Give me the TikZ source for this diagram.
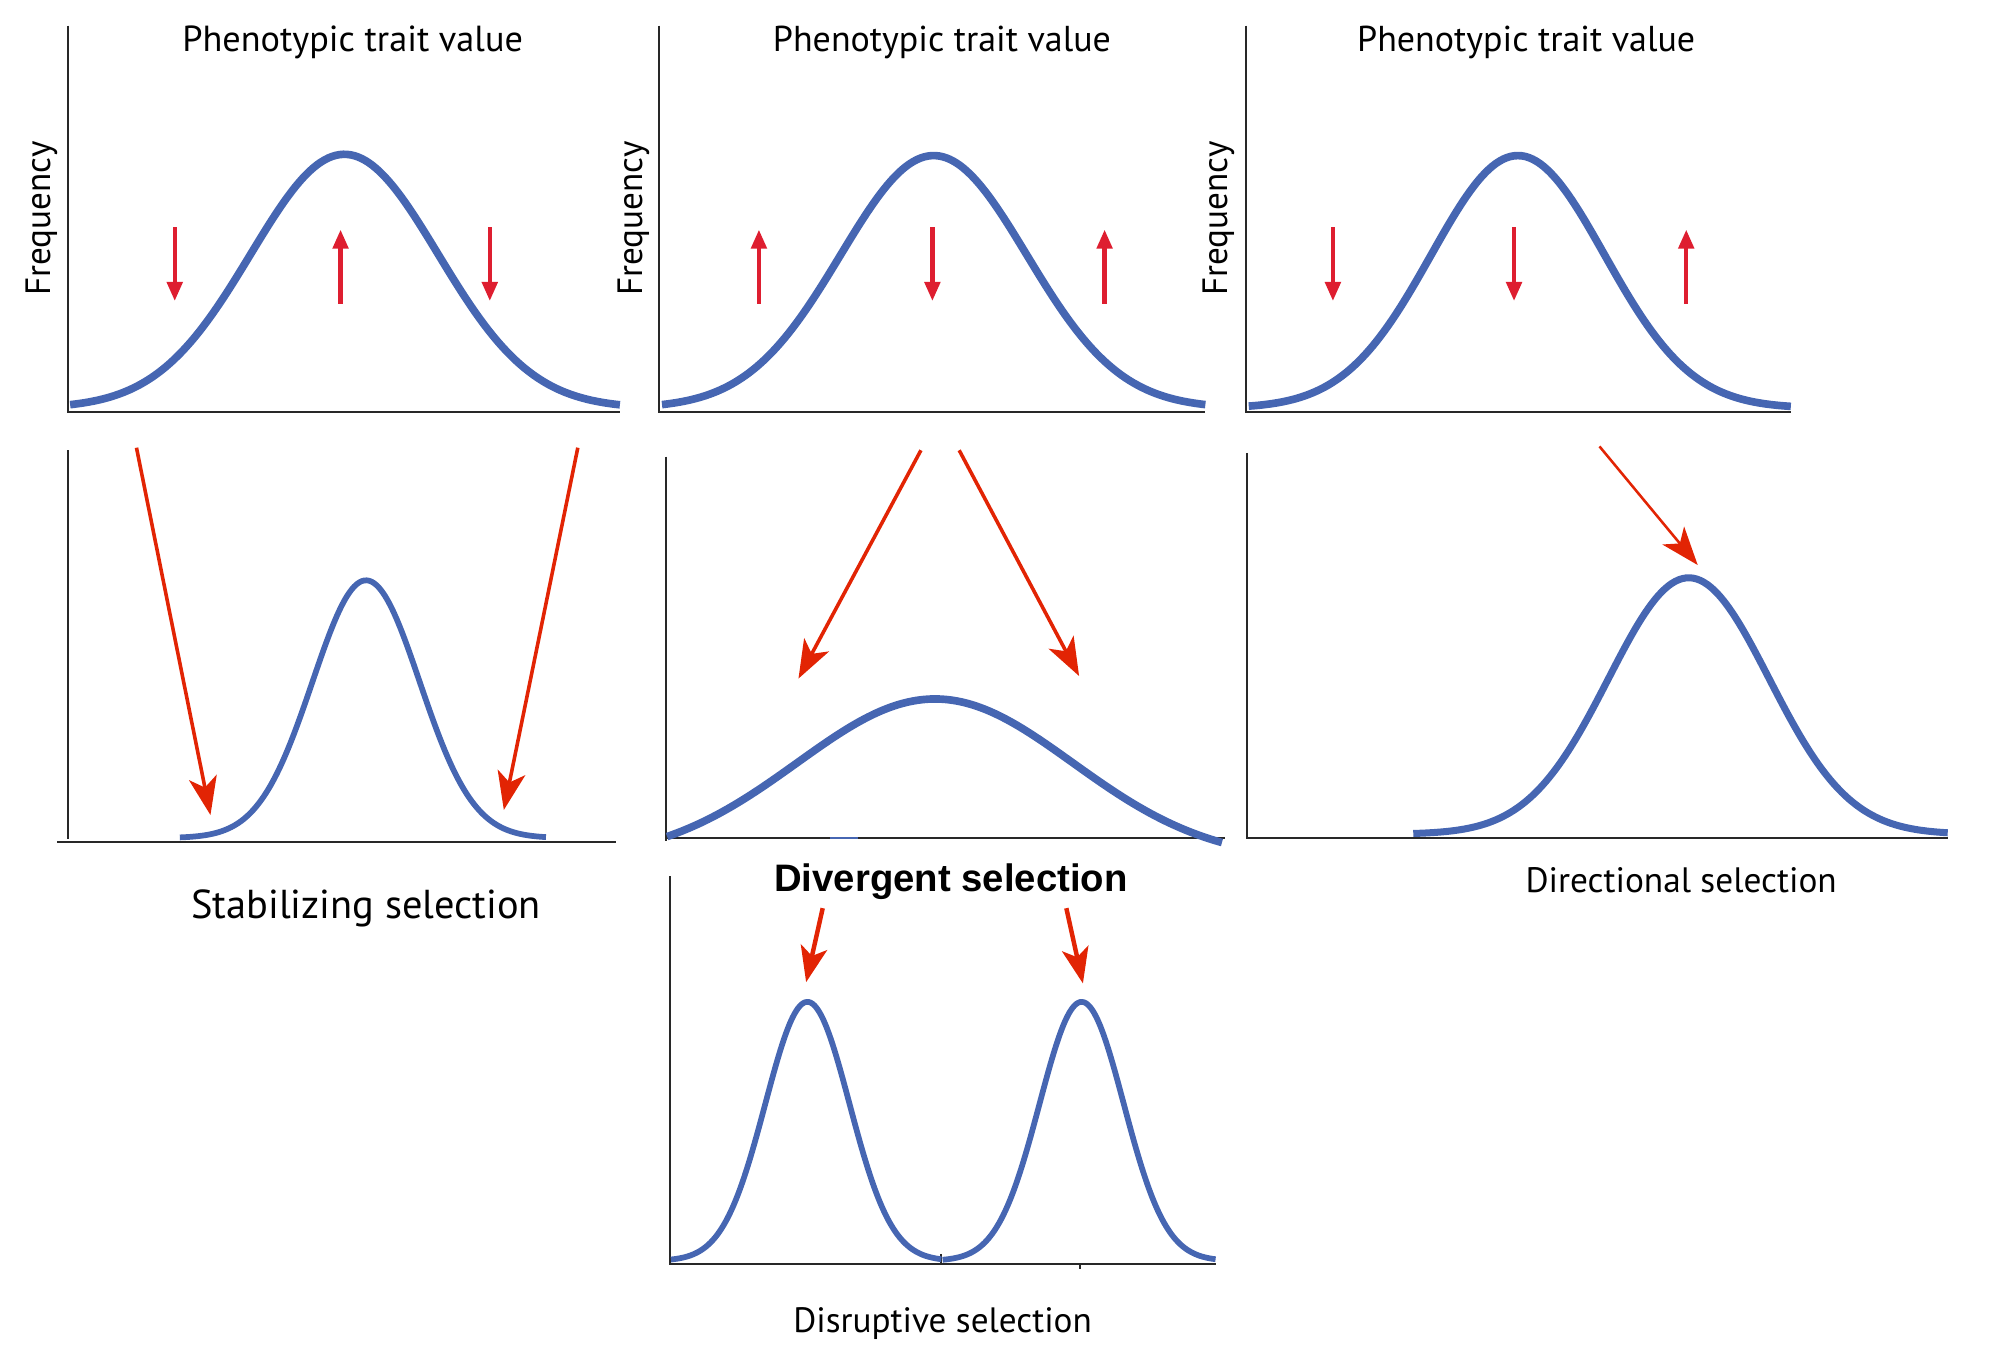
\documentclass[tikz,border=0pt]{standalone}
\usepackage{fontspec}
\setmainfont{PT Sans}
\newfontfamily\divfont{Liberation Sans}
\usepackage{graphicx}
\usetikzlibrary{arrows.meta}
\definecolor{curveblue}{RGB}{70,102,178}
\definecolor{smallred}{RGB}{222,30,48}
\definecolor{bigred}{RGB}{226,36,4}
\definecolor{axisgray}{RGB}{40,40,40}
\newcommand{\fitw}[2]{\resizebox{#1}{!}{#2}}
\begin{document}
\begin{tikzpicture}[x=1pt,y=-1pt,
  declare function={g(\t,\m,\s)=exp(-0.5*((\t-\m)/\s)*((\t-\m)/\s));},
  axis/.style={draw=axisgray,line width=1.6pt},
  bell/.style={draw=curveblue,line width=6pt,smooth,samples=150},
  thinbell/.style={bell,line width=4.5pt},
  smallarrow/.style={draw=smallred,line width=3.4pt,-{Triangle[length=15pt,width=12pt]}},
  bigarrow/.style={draw=bigred,line width=2.8pt,-{Stealth[length=30pt,width=22pt,inset=8pt]}},
  midarrow/.style={draw=bigred,line width=3.5pt,-{Stealth[length=28pt,width=21pt,inset=7pt]}},
  lbl/.style={inner sep=0pt,anchor=base},
]
\useasboundingbox (0,0) rectangle (1568,1063);

% ---------- axes ----------
\draw[axis] (53,20) -- (53,323) -- (486,323);
\draw[axis] (517,20) -- (517,323) -- (945,323);
\draw[axis] (977,20) -- (977,323) -- (1404,323);
\draw[axis] (53,353) -- (53,658);
\draw[axis] (45,660) -- (483,660);
\draw[axis] (522,358) -- (522,659);
\draw[axis] (522,657) -- (960,657);
\draw[axis] (978,355) -- (978,658);
\draw[axis] (978,657) -- (1527,657);
\draw[axis] (525,687) -- (525,992);
\draw[axis] (525,991) -- (953,991);
\draw[axis] (738,983) -- (738,992);
\draw[axis] (847,991) -- (847,995);

% ---------- curves ----------
\draw[bell,domain=55:486] plot (\x,{320-199*g(\x,270,73.5)});
\draw[bell,domain=519:945] plot (\x,{320-198*g(\x,732,73)});
\draw[bell,domain=979:1404] plot (\x,{320-198*g(\x,1190,68)});
\draw[thinbell,domain=141:428] plot (\x,{657-202*g(\x,287,42)});
\draw[bell,domain=523:958] plot (\x,{656-108*(g(\x,733,108)-0.15)/0.85});
\draw[draw=curveblue,line width=2pt] (651,657) -- (673,657);
\draw[bell,line width=5.5pt,domain=1108:1527] plot (\x,{654-201*g(\x,1324,63)});
\draw[thinbell,domain=526:738] plot (\x,{988.5-203*g(\x,633,33)});
\draw[thinbell,domain=739:953] plot (\x,{988.5-203*g(\x,848,33)});

% ---------- small arrows (top row) ----------
\coordinate (s1a) at (137,178); \coordinate (s1b) at (137,236);
\coordinate (s2a) at (267,238); \coordinate (s2b) at (267,180);
\coordinate (s3a) at (384,178); \coordinate (s3b) at (384,236);
\coordinate (s4a) at (595,238); \coordinate (s4b) at (595,180);
\coordinate (s5a) at (731,178); \coordinate (s5b) at (731,236);
\coordinate (s6a) at (866,238); \coordinate (s6b) at (866,180);
\coordinate (s7a) at (1045,178); \coordinate (s7b) at (1045,236);
\coordinate (s8a) at (1187,178); \coordinate (s8b) at (1187,236);
\coordinate (s9a) at (1322,238); \coordinate (s9b) at (1322,180);
\foreach \i in {1,...,9} {\draw[smallarrow] (s\i a) -- (s\i b);}

% ---------- big arrows ----------
\coordinate (b1a) at (107,351); \coordinate (b1b) at (165,639);
\coordinate (b2a) at (453,351); \coordinate (b2b) at (395,635);
\coordinate (b3a) at (722,353); \coordinate (b3b) at (626,532);
\coordinate (b4a) at (752,353); \coordinate (b4b) at (846,530);
\coordinate (b5a) at (1254,350); \coordinate (b5b) at (1331,443);
\draw[bigarrow] (b1a) -- (b1b);
\draw[bigarrow] (b2a) -- (b2b);
\draw[bigarrow] (b3a) -- (b3b);
\draw[bigarrow] (b4a) -- (b4b);
\draw[bigarrow,line width=2pt] (b5a) -- (b5b);
\coordinate (c1a) at (645,712); \coordinate (c1b) at (632,770);
\coordinate (c2a) at (836,712); \coordinate (c2b) at (849,771);
\draw[midarrow] (c1a) -- (c1b);
\draw[midarrow] (c2a) -- (c2b);

% ---------- labels ----------
\node[lbl] (t1) at (276.5,40) {\fitw{267pt}{Phenotypic trait value}};
\node[lbl] (t2) at (738.5,40) {\fitw{265pt}{Phenotypic trait value}};
\node[lbl] (t3) at (1196.5,40) {\fitw{265pt}{Phenotypic trait value}};
\node[lbl,rotate=90] (f1) at (39.5,171.5) {\fitw{121pt}{Frequency}};
\node[lbl,rotate=90] (f2) at (503.5,171.5) {\fitw{121pt}{Frequency}};
\node[lbl,rotate=90] (f3) at (962,171.5) {\fitw{121pt}{Frequency}};
\node[lbl] (stab) at (287,720) {\fitw{274pt}{Stabilizing selection}};
\node[lbl] (dive) at (745.5,699) {\fitw{277pt}{\divfont\bfseries Divergent selection}};
\node[lbl] (dirl) at (1318,700) {\fitw{244pt}{Directional selection}};
\node[lbl] (disr) at (739,1045) {\fitw{234pt}{Disruptive selection}};
\end{tikzpicture}
\end{document}
